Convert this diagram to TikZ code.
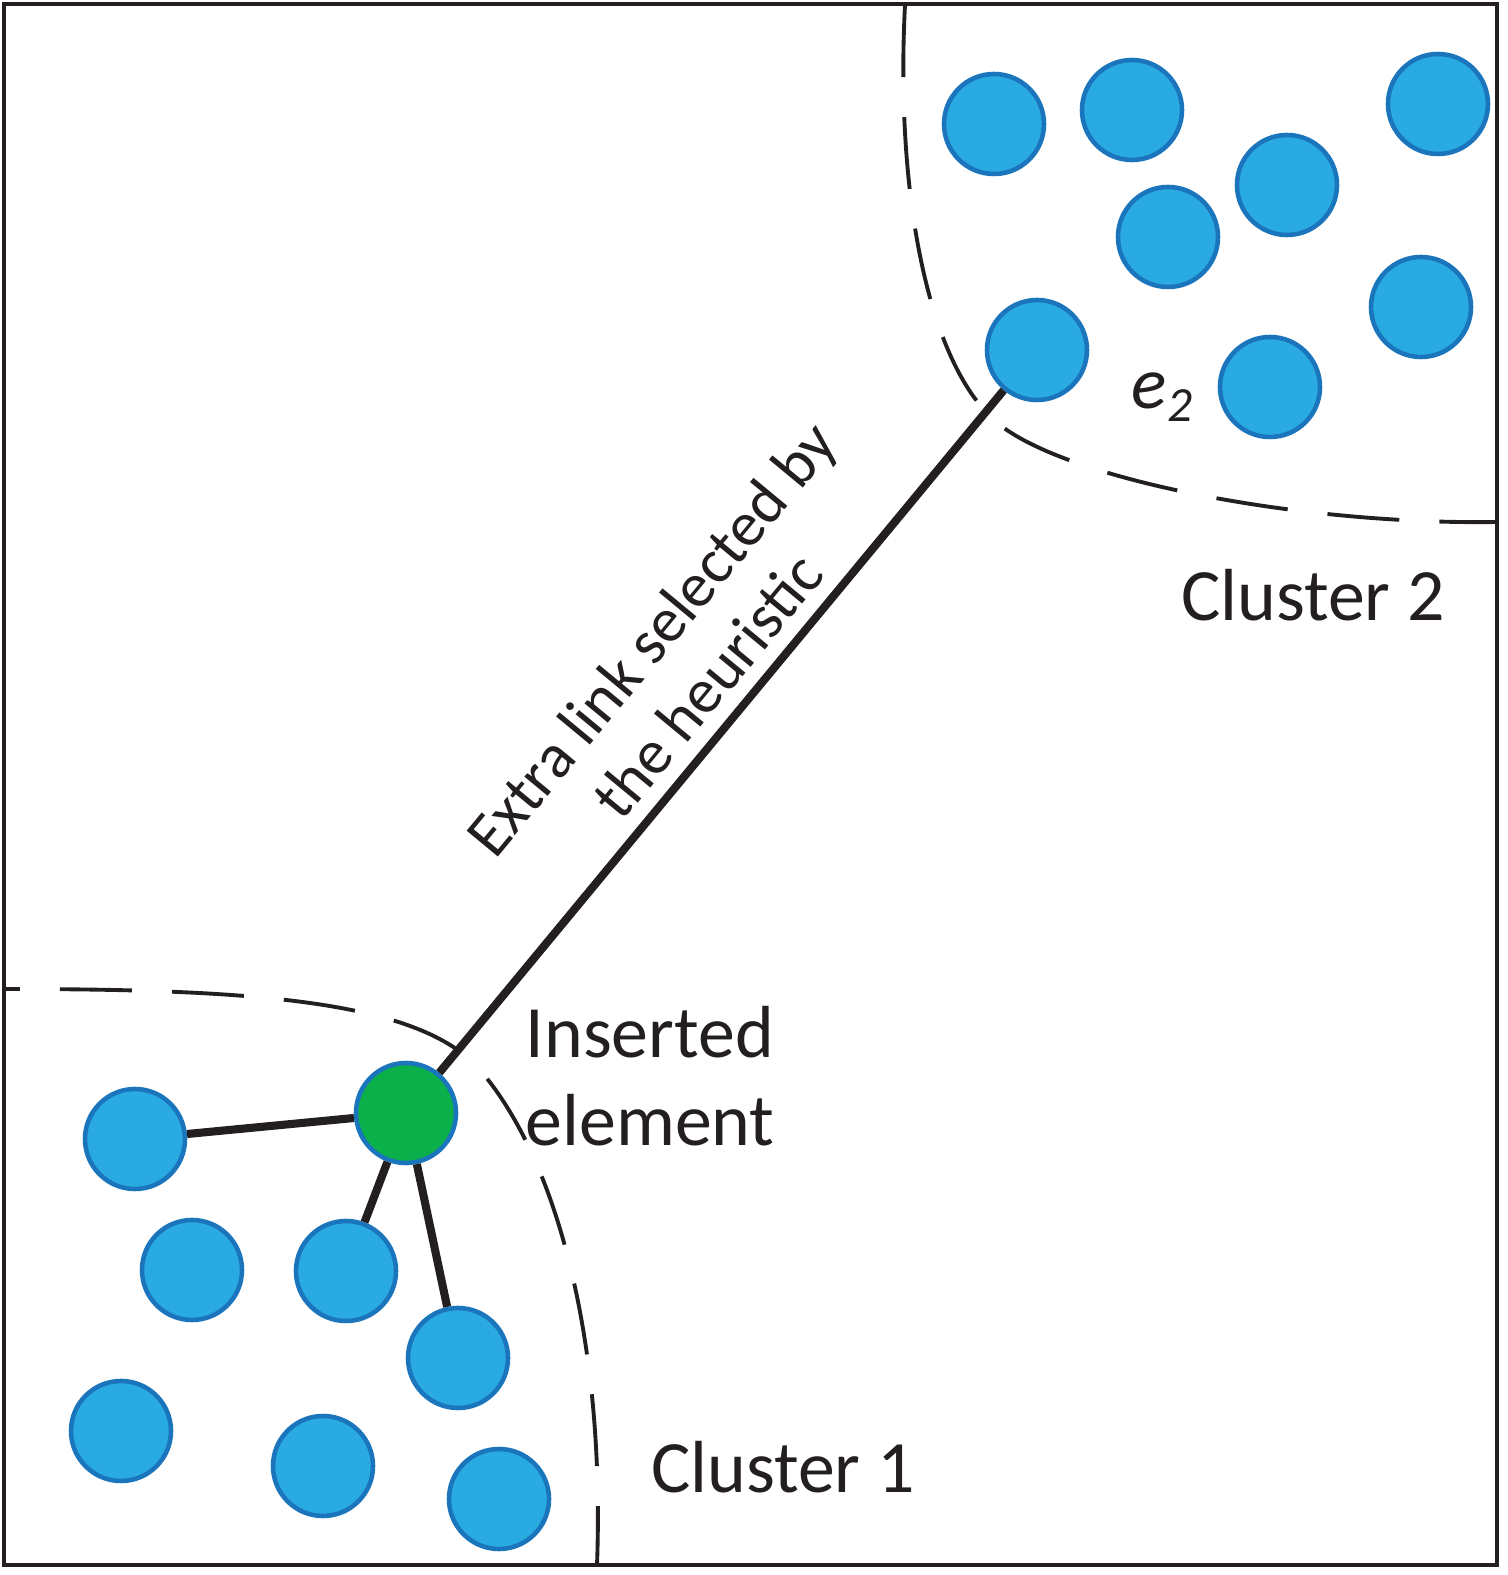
\documentclass[tikz,border=0pt]{standalone}
\usepackage{fontspec}
\setmainfont{Carlito}
\definecolor{dotfill}{RGB}{41,171,226}
\definecolor{dotline}{RGB}{27,117,188}
\definecolor{newfill}{RGB}{12,176,75}
\definecolor{ink}{RGB}{35,31,32}

\begin{document}
\begin{tikzpicture}[
  elem/.style={circle,draw=dotline,fill=dotfill,line width=1.3pt,minimum size=1.0cm,inner sep=0pt},
  newelem/.style={elem,fill=newfill},
  link/.style={draw=ink,line width=2.3pt},
  bound/.style={draw=ink,line width=1.1pt,dash pattern=on 20.5pt off 11.4pt},
  txt/.style={text=ink,inner sep=0pt,font=\fontsize{21}{25}\selectfont}
]
\useasboundingbox (0,0) rectangle (15.08,15.75);
\draw[ink,line width=1.1pt] (0.04,0.10) rectangle (14.97,15.71);
% cluster borders
\draw[bound,dash phase=16pt] (0.04,5.86) .. controls (2.50,5.86) and (4.20,5.75) .. (4.80,5.05) .. controls (5.60,4.12) and (6.05,2.25) .. (5.97,0.10);
\draw[bound] (9.05,15.70) .. controls (8.95,13.75) and (9.30,12.05) .. (10.00,11.50) .. controls (10.70,10.95) and (13.00,10.50) .. (14.97,10.53);
% cluster 2
\node[elem] (c21) at (9.94,14.51) {};
\node[elem] (c22) at (11.32,14.65) {};
\node[elem] (c23) at (14.38,14.71) {};
\node[elem] (c24) at (12.87,13.90) {};
\node[elem] (c25) at (11.68,13.38) {};
\node[elem] (c26) at (14.21,12.68) {};
\node[elem] (e2) at (10.37,12.25) {};
\node[elem] (c28) at (12.70,11.88) {};
% cluster 1
\node[newelem] (ins) at (4.06,4.62) {};
\node[elem] (c11) at (1.35,4.36) {};
\node[elem] (c12) at (1.92,3.05) {};
\node[elem] (c13) at (3.46,3.04) {};
\node[elem] (c14) at (4.58,2.17) {};
\node[elem] (c15) at (1.21,1.44) {};
\node[elem] (c16) at (3.23,1.09) {};
\node[elem] (c17) at (4.99,0.76) {};
% links
\draw[link] (ins) -- (c11);
\draw[link] (ins) -- (c13);
\draw[link] (ins) -- (c14);
\draw[link] (ins) -- node[sloped,above=4pt,pos=0.53,txt,align=center,font=\fontsize{18}{21}\selectfont] {Extra link selected by\\the heuristic} (e2);
% labels
\node[txt] (lbl2) at (13.13,9.80) {Cluster 2};
\node[txt] (lbl1) at (7.83,1.08) {Cluster 1};
\node[txt,anchor=west,align=left] (lblins) at (5.25,4.99) {Inserted\\element};
\node[txt] (lble2) at (11.62,11.78) {\textit{e}\raisebox{-0.35ex}{\fontsize{14}{14}\selectfont\textit{2}}};
\end{tikzpicture}
\end{document}
